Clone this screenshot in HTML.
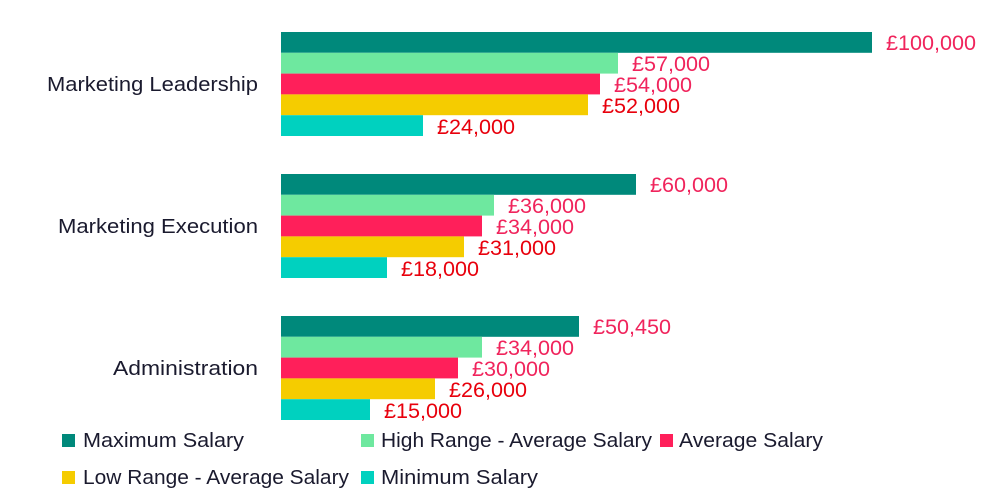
<!DOCTYPE html>
<html><head><meta charset="utf-8"><style>html,body{margin:0;padding:0;background:#fff}svg{display:block}text{font-family:"Liberation Sans",sans-serif}</style></head>
<body>
<svg width="1006" height="503" viewBox="0 0 1006 503" xmlns="http://www.w3.org/2000/svg">
<g font-size="20" fill="#1a1a2e" text-anchor="end">
<text x="258" y="91" textLength="211" lengthAdjust="spacingAndGlyphs">Marketing Leadership</text>
<text x="258" y="233" textLength="200" lengthAdjust="spacingAndGlyphs">Marketing Execution</text>
<text x="258" y="375" textLength="145" lengthAdjust="spacingAndGlyphs">Administration</text>
</g>
<g font-size="21">
<rect x="281" y="32" width="591" height="20.8" fill="#00897b"/>
<rect x="281" y="52.8" width="337" height="20.8" fill="#6ee89f"/>
<rect x="281" y="73.6" width="319" height="20.8" fill="#ff1f5a"/>
<rect x="281" y="94.4" width="307" height="20.8" fill="#f5cc00"/>
<rect x="281" y="115.2" width="142" height="20.8" fill="#00d1bf"/>
<text x="886" y="50" fill="#f0245c" textLength="90" lengthAdjust="spacingAndGlyphs">£100,000</text>
<text x="632" y="71" fill="#f0245c" textLength="78" lengthAdjust="spacingAndGlyphs">£57,000</text>
<text x="614" y="92" fill="#f0245c" textLength="78" lengthAdjust="spacingAndGlyphs">£54,000</text>
<text x="602" y="113" fill="#e8000c" textLength="78" lengthAdjust="spacingAndGlyphs">£52,000</text>
<text x="437" y="134" fill="#e8000c" textLength="78" lengthAdjust="spacingAndGlyphs">£24,000</text>
<rect x="281" y="174" width="355" height="20.8" fill="#00897b"/>
<rect x="281" y="194.8" width="213" height="20.8" fill="#6ee89f"/>
<rect x="281" y="215.6" width="201" height="20.8" fill="#ff1f5a"/>
<rect x="281" y="236.4" width="183" height="20.8" fill="#f5cc00"/>
<rect x="281" y="257.2" width="106" height="20.8" fill="#00d1bf"/>
<text x="650" y="192" fill="#f0245c" textLength="78" lengthAdjust="spacingAndGlyphs">£60,000</text>
<text x="508" y="213" fill="#f0245c" textLength="78" lengthAdjust="spacingAndGlyphs">£36,000</text>
<text x="496" y="234" fill="#f0245c" textLength="78" lengthAdjust="spacingAndGlyphs">£34,000</text>
<text x="478" y="255" fill="#e8000c" textLength="78" lengthAdjust="spacingAndGlyphs">£31,000</text>
<text x="401" y="276" fill="#e8000c" textLength="78" lengthAdjust="spacingAndGlyphs">£18,000</text>
<rect x="281" y="316" width="298" height="20.8" fill="#00897b"/>
<rect x="281" y="336.8" width="201" height="20.8" fill="#6ee89f"/>
<rect x="281" y="357.6" width="177" height="20.8" fill="#ff1f5a"/>
<rect x="281" y="378.4" width="154" height="20.8" fill="#f5cc00"/>
<rect x="281" y="399.2" width="89" height="20.8" fill="#00d1bf"/>
<text x="593" y="334" fill="#f0245c" textLength="78" lengthAdjust="spacingAndGlyphs">£50,450</text>
<text x="496" y="355" fill="#f0245c" textLength="78" lengthAdjust="spacingAndGlyphs">£34,000</text>
<text x="472" y="376" fill="#f0245c" textLength="78" lengthAdjust="spacingAndGlyphs">£30,000</text>
<text x="449" y="397" fill="#e8000c" textLength="78" lengthAdjust="spacingAndGlyphs">£26,000</text>
<text x="384" y="418" fill="#e8000c" textLength="78" lengthAdjust="spacingAndGlyphs">£15,000</text>
</g>
<g font-size="20" fill="#1a1a2e">
<rect x="62" y="434" width="13" height="13" fill="#00897b"/>
<text x="83" y="447" textLength="161" lengthAdjust="spacingAndGlyphs">Maximum Salary</text>
<rect x="361" y="434" width="13" height="13" fill="#6ee89f"/>
<text x="381" y="447" textLength="271" lengthAdjust="spacingAndGlyphs">High Range - Average Salary</text>
<rect x="660" y="434" width="13" height="13" fill="#ff1f5a"/>
<text x="679" y="447" textLength="144" lengthAdjust="spacingAndGlyphs">Average Salary</text>
<rect x="62" y="471" width="13" height="13" fill="#f5cc00"/>
<text x="83" y="484" textLength="266" lengthAdjust="spacingAndGlyphs">Low Range - Average Salary</text>
<rect x="361" y="471" width="13" height="13" fill="#00d1bf"/>
<text x="381" y="484" textLength="157" lengthAdjust="spacingAndGlyphs">Minimum Salary</text>
</g>
</svg>
</body></html>
